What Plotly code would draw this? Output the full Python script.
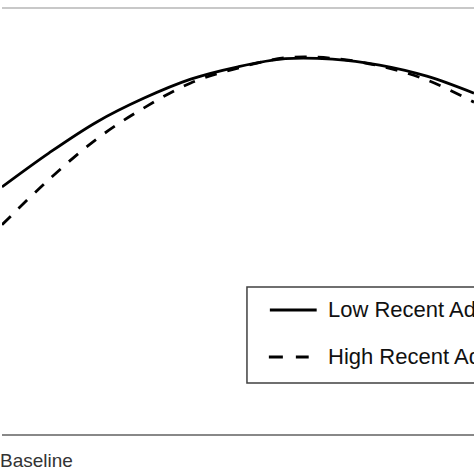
import plotly.graph_objects as go

# ---- data ----
x_pos = [0, 1, 2, 3, 4, 5, 6, 7, 8, 9, 10]
low_recent = [58.0, 66.0, 73.2, 78.8, 83.3, 86.2, 88.1, 88.0, 86.6, 84.0, 80.0]
high_recent = [49.1, 59.8, 69.2, 76.5, 82.4, 85.9, 88.3, 88.2, 86.4, 83.1, 77.9]
series_names = ["Low Recent Adversity", "High Recent Adversity"]
tick_positions = [0.73]
tick_labels = ["Baseline"]

FONT = "Arial, Liberation Sans, sans-serif"

fig = go.Figure()
fig.add_trace(go.Scatter(x=x_pos, y=low_recent, name=series_names[0], mode="lines",
                         line=dict(color="#000000", width=2.8, shape="spline", smoothing=1.0),
                         showlegend=False))
fig.add_trace(go.Scatter(x=x_pos, y=high_recent, name=series_names[1], mode="lines",
                         line=dict(color="#000000", width=2.8, shape="spline", smoothing=1.0,
                                   dash="12px,11px"),
                         showlegend=False))

# frame top line
fig.add_shape(type="line", xref="paper", yref="paper", x0=0, x1=1, y0=1.0, y1=1.0,
              line=dict(color="#c8c8c8", width=2))

# legend box (cropped at right edge in the reference)
box_x0, box_y0, box_y1 = 0.519, 0.1197, 0.345
fig.add_shape(type="rect", xref="paper", yref="paper", x0=box_x0, x1=1.2, y0=box_y0, y1=box_y1,
              line=dict(color="#404040", width=1.5), fillcolor="white", layer="above")
row_y = [0.2911, 0.1808]
fig.add_shape(type="line", xref="paper", yref="paper", x0=0.5675, x1=0.6667, y0=row_y[0], y1=row_y[0],
              line=dict(color="#000000", width=3), layer="above")
fig.add_shape(type="line", xref="paper", yref="paper", x0=0.5654, x1=0.6498, y0=row_y[1], y1=row_y[1],
              line=dict(color="#000000", width=3, dash="14px,13px"), layer="above")
for name, yy in zip(series_names, row_y):
    fig.add_annotation(xref="paper", yref="paper", x=0.6857, y=yy, text=name, showarrow=False,
                       xanchor="left", yanchor="middle",
                       font=dict(family=FONT, size=22, color="#111111"))

fig.update_layout(
    width=474, height=474,
    margin=dict(l=0, r=0, t=8, b=40),
    paper_bgcolor="white", plot_bgcolor="white",
    font=dict(family=FONT),
    xaxis=dict(range=[0, 10], showgrid=False, zeroline=False, showline=True,
               linecolor="#888888", linewidth=1.5, ticks="",
               tickvals=tick_positions, ticktext=tick_labels,
               tickfont=dict(family=FONT, size=19, color="#333333"),
               ticklabelstandoff=8, ticklabeloverflow="allow"),
    yaxis=dict(range=[0, 100], showgrid=False, zeroline=False, showline=False,
               showticklabels=False, ticks=""),
)

fig.write_html("out.html", config={"displayModeBar": False},
               post_script="document.body.style.margin='0px';document.body.style.overflow='hidden';")
